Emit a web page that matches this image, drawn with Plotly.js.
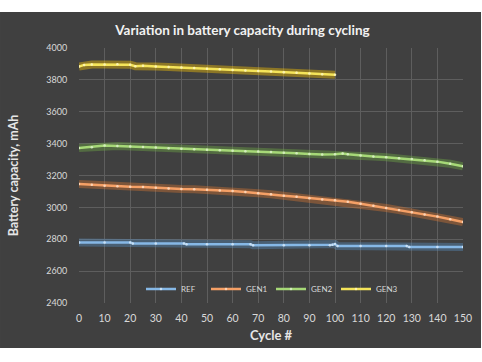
<!DOCTYPE html>
<html>
<head>
<meta charset="utf-8">
<script src="https://cdn.plot.ly/plotly-3.0.1.min.js"></script>
<style>html,body{margin:0;padding:0;background:#fff;}#chart{width:482px;height:362px;}</style>
</head>
<body>
<div id="chart"></div>
<script>
// Data
const refCycles = [0,10,20,21,30,41,42,50,60,67,68,80,90,98,99,100,101,110,120,128,129,140,150];
const refCap    = [2780,2780,2780,2774,2774,2774,2768,2768,2768,2768,2762,2762,2762,2762,2766,2770,2757,2757,2757,2757,2751,2751,2751];

const gen1Cycles = [0,5,10,15,20,25,30,35,40,45,50,55,60,65,70,75,80,85,90,95,100,105,110,115,120,125,130,135,140,145,150];
const gen1Cap    = [3147,3142,3136,3133,3130,3128,3123,3119,3116,3114,3111,3106,3102,3097,3088,3082,3073,3066,3058,3050,3044,3035,3023,3010,2996,2983,2970,2955,2942,2926,2908];

const gen2Cycles = [0,5,10,15,20,25,30,35,40,45,50,55,60,65,70,75,80,85,90,95,100,103,105,110,115,120,125,130,135,140,145,150];
const gen2Cap    = [3372,3378,3388,3385,3382,3379,3375,3371,3368,3364,3361,3358,3355,3352,3350,3347,3343,3339,3335,3331,3333,3338,3334,3326,3320,3315,3309,3303,3295,3287,3274,3258];

const gen3Cycles = [0,2,5,10,15,20,22,25,30,35,40,45,50,55,60,65,70,75,80,85,90,95,100];
const gen3Cap    = [3884,3894,3896,3897,3898,3895,3886,3889,3884,3881,3878,3874,3870,3866,3862,3859,3856,3852,3848,3844,3840,3836,3832];

const seriesNames = ['REF','GEN1','GEN2','GEN3'];
const xTickVals = [0,10,20,30,40,50,60,70,80,90,100,110,120,130,140,150];
const yTickVals = [2400,2600,2800,3000,3200,3400,3600,3800,4000];

const series = [
  {name: seriesNames[0], x: refCycles,  y: refCap,  core: '#86b8e6', glow: 'rgba(91,155,213,0.35)', mk: '#c9e0f5'},
  {name: seriesNames[1], x: gen1Cycles, y: gen1Cap, core: '#f5a066', glow: 'rgba(237,125,49,0.35)', mk: '#fbd2b4'},
  {name: seriesNames[2], x: gen2Cycles, y: gen2Cap, core: '#a6d877', glow: 'rgba(112,173,71,0.40)', mk: '#d3ecbd'},
  {name: seriesNames[3], x: gen3Cycles, y: gen3Cap, core: '#f4e45a', glow: 'rgba(255,200,0,0.40)', mk: '#fbf3b0'}
];

const traces = [];
series.forEach(s => {
  traces.push({x: s.x, y: s.y, type: 'scatter', mode: 'lines', showlegend: false, hoverinfo: 'skip',
    line: {color: s.glow, width: 8, shape: 'linear'}});
});
series.forEach(s => {
  traces.push({x: s.x, y: s.y, type: 'scatter', mode: 'lines+markers', name: s.name,
    line: {color: s.core, width: 2.5},
    marker: {color: s.mk, size: 2.5}});
});

const font = 'Lato, "Open Sans", sans-serif';
const layout = {
  width: 482, height: 362,
  paper_bgcolor: '#ffffff',
  plot_bgcolor: '#404040',
  margin: {l: 79, r: 19, t: 48, b: 59, pad: 0},
  font: {family: font, color: '#d9d9d9'},
  title: {text: '<b>Variation in battery capacity during cycling</b>', font: {family: font, size: 13.5, color: '#f2f2f2'},
    xref: 'container', x: 0.503, yref: 'container', y: 0.917, xanchor: 'center', yanchor: 'middle'},
  xaxis: {range: [0, 150], tickvals: xTickVals, ticks: 'outside', ticklen: 5, tickcolor: 'rgba(0,0,0,0)',
    showgrid: true, gridcolor: '#5e5e5e', gridwidth: 1,
    zeroline: false, showline: false, tickfont: {size: 10.5, color: '#d9d9d9'},
    title: {text: '<b>Cycle #</b>', font: {size: 13, color: '#e6e6e6'}, standoff: 8}},
  yaxis: {range: [2400, 4000], tickvals: yTickVals, ticks: 'outside', ticklen: 9, tickcolor: 'rgba(0,0,0,0)',
    showgrid: true, gridcolor: '#5e5e5e', gridwidth: 1,
    zeroline: false, showline: false, tickfont: {size: 9, color: '#d9d9d9'},
    title: {text: '<b>Battery capacity, mAh</b>', font: {size: 12.5, color: '#e6e6e6'}, standoff: 24}},
  legend: {orientation: 'h', x: 0.5, xanchor: 'center', y: 0.055, yanchor: 'middle', bgcolor: 'rgba(0,0,0,0)',
    font: {size: 8, color: '#d9d9d9'}, itemwidth: 30, entrywidth: 20, entrywidthmode: 'pixels'},
  shapes: [{type: 'rect', xref: 'paper', yref: 'paper', x0: -0.2057, x1: 1.0469, y0: -0.1765, y1: 1.141,
    fillcolor: '#404040', line: {width: 0}, layer: 'below'}],
  showlegend: true
};

Plotly.newPlot('chart', traces, layout, {staticPlot: true, displayModeBar: false});
</script>
</body>
</html>
